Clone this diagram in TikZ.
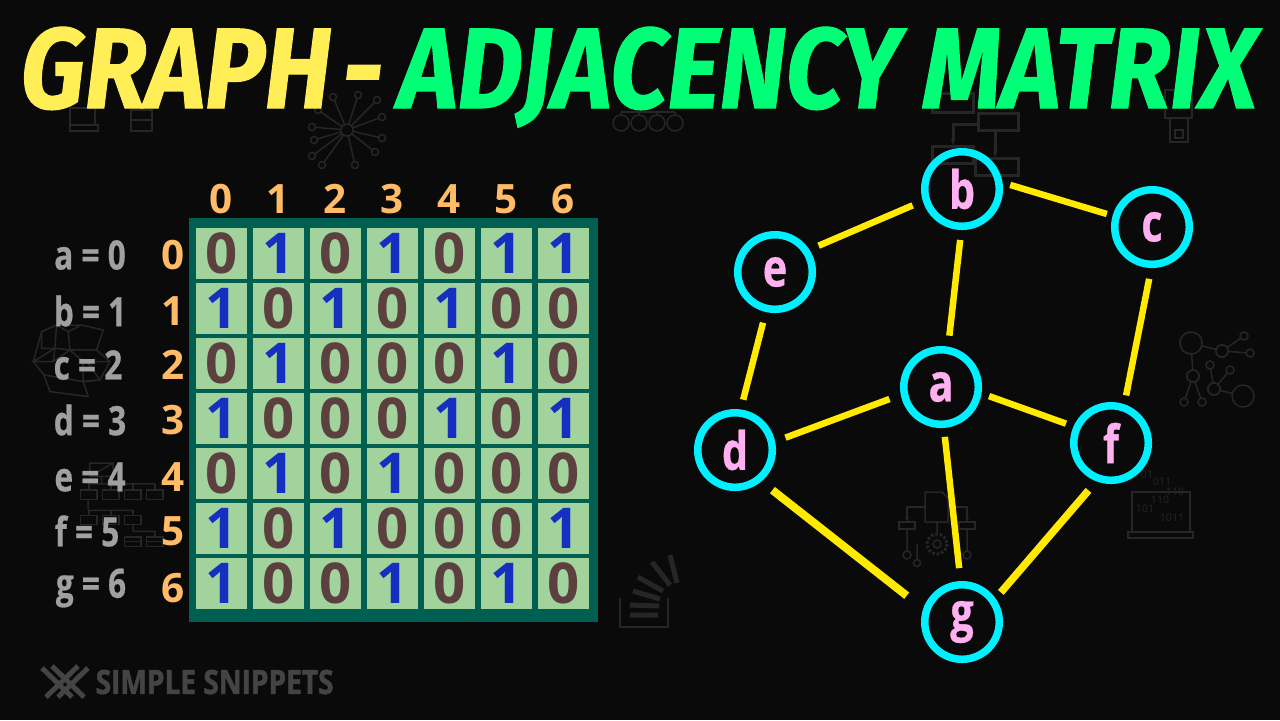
\documentclass[tikz,border=0pt]{standalone}
\usepackage{fontspec}
\setmainfont{Open Sans}
\newfontfamily\narrowfont[FakeStretch=.78,FakeBold=.6]{Open Sans}
\newfontfamily\logofont[FakeStretch=.84,FakeBold=1.5]{Open Sans}
\newfontfamily\titlefont[FakeStretch=.885,FakeBold=1]{Fira Sans}
\usetikzlibrary{calc,arrows.meta}
\definecolor{bgblack}{HTML}{0A0A0A}
\definecolor{wmgray}{HTML}{262626}
\definecolor{framegreen}{HTML}{005F50}
\definecolor{cellgreen}{HTML}{A3D39C}
\definecolor{digit0}{HTML}{5C4040}
\definecolor{digit1}{HTML}{1530C0}
\definecolor{indexorange}{HTML}{FFBB66}
\definecolor{namegray}{HTML}{A0A0A0}
\definecolor{ringcyan}{HTML}{00F0FF}
\definecolor{letterpink}{HTML}{FFB0F0}
\definecolor{edgeyellow}{HTML}{FFEA00}
\definecolor{titleyellow}{HTML}{FFEE55}
\definecolor{titlegreen}{HTML}{00FF77}
\definecolor{logogray}{HTML}{444444}
\tikzset{
  wm/.style={draw=wmgray,line width=.015cm},
  cellbox/.style={fill=cellgreen,minimum size=.51cm,inner sep=0pt,font=\bfseries\fontsize{16}{16}\selectfont},
  indexlabel/.style={text=indexorange,inner sep=0pt,font=\bfseries\fontsize{11.5}{12}\selectfont},
  namelabel/.style={text=namegray,inner sep=0pt,font=\narrowfont\bfseries\fontsize{11.5}{12}\selectfont},
  graphnode/.style={circle,draw=ringcyan,line width=.075cm,minimum size=.745cm,inner sep=0pt,text=letterpink,font=\narrowfont\bfseries\fontsize{15}{15}\selectfont},
  graphedge/.style={draw=edgeyellow,line width=.065cm},
  titletext/.style={anchor=base west,inner sep=0pt,font=\titlefont\bfseries\itshape\fontsize{32.5}{34}\selectfont},
  binlabel/.style={text=wmgray,inner sep=0pt,font=\fontsize{3}{4}\selectfont}
}
\begin{document}
\begin{tikzpicture}[x=.01cm,y=-.01cm]
  \useasboundingbox[fill=bgblack] (0,0) rectangle (1280,720);
  \begin{scope}[wm]
    \coordinate(hub)at(347,130);
    \foreach \px/\py in {333/97,318/110,358/95,377/100,382/117,382/138,375/152,355/165,322/165,312/156,314/140,312/127}{
      \draw(hub)--(\px,\py);
      \draw[fill=bgblack](\px,\py)circle(3.5);
    }
    \draw[fill=bgblack](hub)circle(6);
    \draw(70,108)rectangle(95,125) (70,125)rectangle(98,131) (131,110)rectangle(152,131) (131,120)--(152,120);
    \draw(621,112)--(675,112);
    \foreach \px in {621,639,657,675}{\draw(\px,112)--(\px,115) (\px,123)circle(8);}
    \draw[line width=.03cm](978,113)rectangle(1018,130) (932,146)rectangle(973,163) (975,158)rectangle(1018,175) (932,93)rectangle(973,112);
    \draw[line width=.03cm,-{Stealth[length=.06cm]}](978,124)--(953,124)--(953,145);
    \draw[line width=.03cm,-{Stealth[length=.06cm]}](995,130)--(995,157);
    \draw(1165,90)rectangle(1192,118) (1170,118)rectangle(1188,142) (1175,130)rectangle(1183,138);
    \draw(1132,532)--(1132,492)--(1190,492)--(1190,532) (1128,532)rectangle(1193,538);
    \foreach \px/\py/\txt in {1145/509/101,1160/500/110,1172/518/1011,1175/492/110,1162/482/011,1147/475/01}{
      \node[binlabel](bin\txt\px)at(\px,\py){\txt};
    }
    \draw(925,522)--(925,492)--(942,492)--(948,498)--(948,522)--cycle;
    \draw(899,522)rectangle(915,529) (959,522)rectangle(975,529);
    \draw[-{Stealth[length=.05cm]}](925,507)--(907,507)--(907,522);
    \draw[-{Stealth[length=.05cm]}](948,507)--(967,507)--(967,522);
    \draw(907,529)--(907,551) (917,544)--(917,559) (967,529)--(967,551) (937,522)--(937,533) (907,555)circle(4) (917,563)circle(3.5) (967,555)circle(4);
    \draw[line width=.03cm,dash pattern=on .025cm off .02cm](937,544)circle(10);
    \draw(937,544)circle(4);
    \foreach \pa/\pb/\ra/\pc/\pd/\rb in {1191/343/11/1222/351/6,1222/351/6/1244/336/4,1222/351/6/1250/353/4,1191/343/11/1193/376/6,1193/376/6/1184/402/4,1193/376/6/1202/402/4,1214/389/6/1210/365/4,1214/389/6/1230/370/4,1214/389/6/1243/396/11}{
      \draw(\pa,\pb)--(\pc,\pd);
      \draw[fill=bgblack](\pa,\pb)circle(\ra) (\pc,\pd)circle(\rb);
    }
    \begin{scope}[shift={(20,320)},x=.00333cm,y=-.00333cm]
      \draw(65,35)--(110,15)--(185,15)--(250,30)--(230,90)--(270,125)--(240,180)--(190,185)--(205,230)--(90,215)--(72,165)--(40,125)--cycle;
      \draw(65,35)--(65,85)--(105,85)--(110,15) (145,35)--(150,90)--(230,90) (185,15)--(145,35)--(110,15) (105,85)--(40,125)--(100,125)--(105,85)--(150,90)--(190,125)--(270,125) (72,165)--(190,185)--(190,125) (150,90)--(100,125) (190,185)--(240,180)--(205,130);
      \draw(210,430)rectangle(280,470) (210,470)--(280,430) (245,470)--(245,492) (205,492)--(405,492) (205,572)--(340,572) (205,540)--(205,572) (340,615)--(340,635)--(405,635)--(405,652);
      \foreach \px in {182,248,314,380}{\draw(\px,510)rectangle(\px+50,540) (\px+25,492)--(\px+25,510);}
      \foreach \px in {182,248,314}{\draw(\px,587)rectangle(\px+50,615) (\px+25,572)--(\px+25,587);}
      \foreach \px in {314,380}{\draw(\px,652)rectangle(\px+50,680) (\px,666)--(\px+50,666);}
    \end{scope}
  \end{scope}
  \begin{scope}[draw=wmgray,line width=.05cm]
    \draw[line width=.02cm](620,598)--(620,627)--(668,627)--(668,598);
    \draw(630,615)--(658,615) (630,605)--(659,606) (633,591)--(660,599) (638,577)--(663,591) (652,562)--(670,585) (670,555)--(677,583);
  \end{scope}
  \draw[fill=framegreen,draw=none](189,218)rectangle(598,622);
  \foreach \row [count=\r from 0] in {{0,1,0,1,0,1,1},{1,0,1,0,1,0,0},{0,1,0,0,0,1,0},{1,0,0,0,1,0,1},{0,1,0,1,0,0,0},{1,0,1,0,0,0,1},{1,0,0,1,0,1,0}}{
    \foreach \val [count=\c from 0] in \row {
      \node[cellbox,text=digit\val](m\r\c)at({221.5+57*\c},{253.5+55*\r}){\val};
    }
  }
  \foreach \lab [count=\c from 0] in {0,...,6}{
    \node[indexlabel](col\c)at({221+57*\c},199){\lab};
  }
  \foreach \lab/\py in {0/255,1/311,2/365,3/420,4/477,5/531,6/588}{
    \node[indexlabel](row\lab)at(173,\py){\lab};
  }
  \foreach \lab/\px/\py in {a = 0/90/255,b = 1/90/311,c = 2/88/365,d = 3/90/420,e = 4/90/477,f = 5/87/531,g = 6/91/588}{
    \node[namelabel](name\py)at(\px,\py){\lab};
  }
  \node[graphnode](b)at(962,189){b};
  \node[graphnode](c)at(1152,227){c};
  \node[graphnode](e)at(775,272){e};
  \node[graphnode](a)at(941,387){a};
  \node[graphnode](d)at(735,450){d};
  \node[graphnode](f)at(1111,443){f};
  \node[graphnode](g)at(962,622){g};
  \draw[graphedge,shorten <=.08cm,shorten >=.06cm](b.9.5)--(c.164);
  \draw[graphedge,shorten <=.11cm,shorten >=.10cm](b.197.7)--(e.33);
  \draw[graphedge,shorten <=.10cm,shorten >=.11cm](b.269)--(a.80);
  \draw[graphedge,shorten <=.11cm,shorten >=.09cm](c.269)--(f.71);
  \draw[graphedge,shorten <=.11cm,shorten >=.10cm](e.257)--(d.82);
  \draw[graphedge,shorten <=.12cm,shorten >=.11cm](a.191)--(d.12);
  \draw[graphedge,shorten <=.08cm,shorten >=.08cm](a.-9.5)--(f.156);
  \draw[graphedge,shorten <=.09cm,shorten >=.13cm](a.274.6)--(g.92);
  \draw[graphedge,line width=.08cm,shorten <=.14cm,shorten >=.21cm](d.-50)--(g.161);
  \draw[graphedge,line width=.075cm,shorten <=.12cm,shorten >=.08cm](f.249)--(g.35);
  \node[titletext,text=titleyellow](graphtitle)at(20,108){GRAPH};
  \node[titletext,text=titleyellow](dashtitle)at(342,108){-};
  \node[titletext,text=titlegreen](matrixtitle)at(398,108){ADJACENCY MATRIX};
  \begin{scope}[draw=logogray,line width=.05cm]
    \draw(42,668)--(72,697) (52,666)--(84,697) (88,668)--(58,697) (78,666)--(46,697);
  \end{scope}
  \node[anchor=west,inner sep=0pt,text=logogray,font=\logofont\bfseries\fontsize{9.5}{10}\selectfont](logotext)at(95,682){SIMPLE SNIPPETS};
\end{tikzpicture}
\end{document}
